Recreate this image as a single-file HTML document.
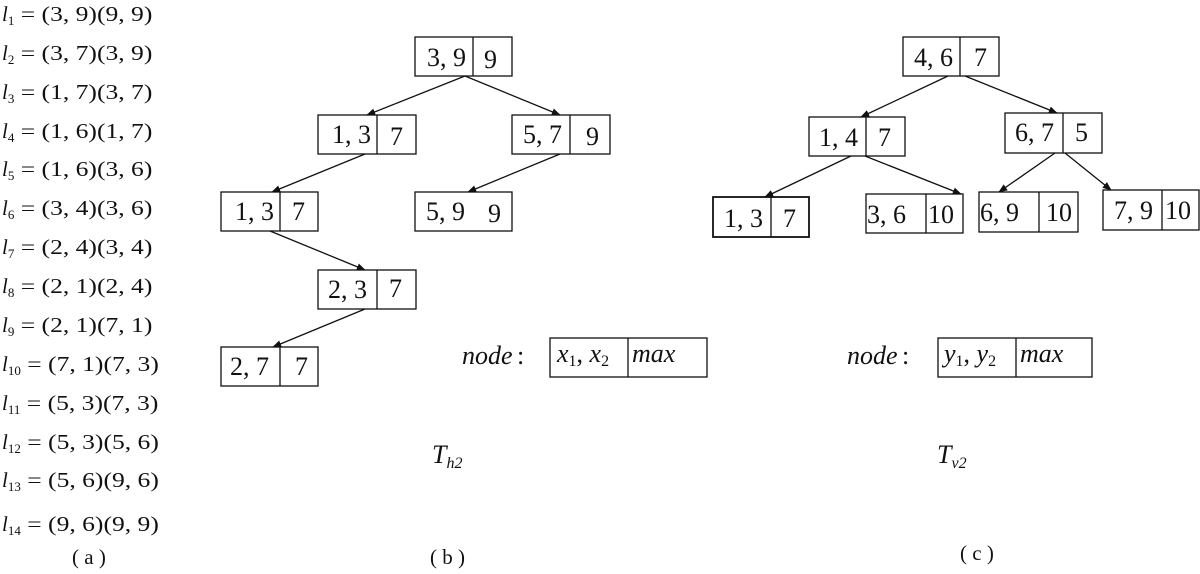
<!DOCTYPE html>
<html><head><meta charset="utf-8"><style>
html,body{margin:0;padding:0;background:#fff;}
svg{display:block;}
text{font-family:"Liberation Serif",serif;fill:#111;}
.l{font-size:21px;}
.b{font-size:26px;}
</style></head><body>
<svg width="1200" height="574" viewBox="0 0 1200 574" xmlns="http://www.w3.org/2000/svg">
<defs><marker id="a" viewBox="0 0 10 10" refX="9" refY="5" markerWidth="7" markerHeight="7" orient="auto"><path d="M0,1L10,5L0,9z" fill="#111"/></marker></defs>
<g class="l">
<text x="2" y="21"><tspan font-style="italic">l</tspan><tspan font-size="13" dy="4">1</tspan><tspan dy="-4" textLength="138" lengthAdjust="spacingAndGlyphs"> = (3, 9)(9, 9)</tspan></text>
<text x="2" y="60"><tspan font-style="italic">l</tspan><tspan font-size="13" dy="4">2</tspan><tspan dy="-4" textLength="138" lengthAdjust="spacingAndGlyphs"> = (3, 7)(3, 9)</tspan></text>
<text x="2" y="99"><tspan font-style="italic">l</tspan><tspan font-size="13" dy="4">3</tspan><tspan dy="-4" textLength="138" lengthAdjust="spacingAndGlyphs"> = (1, 7)(3, 7)</tspan></text>
<text x="2" y="138"><tspan font-style="italic">l</tspan><tspan font-size="13" dy="4">4</tspan><tspan dy="-4" textLength="138" lengthAdjust="spacingAndGlyphs"> = (1, 6)(1, 7)</tspan></text>
<text x="2" y="176"><tspan font-style="italic">l</tspan><tspan font-size="13" dy="4">5</tspan><tspan dy="-4" textLength="138" lengthAdjust="spacingAndGlyphs"> = (1, 6)(3, 6)</tspan></text>
<text x="2" y="215"><tspan font-style="italic">l</tspan><tspan font-size="13" dy="4">6</tspan><tspan dy="-4" textLength="138" lengthAdjust="spacingAndGlyphs"> = (3, 4)(3, 6)</tspan></text>
<text x="2" y="254"><tspan font-style="italic">l</tspan><tspan font-size="13" dy="4">7</tspan><tspan dy="-4" textLength="138" lengthAdjust="spacingAndGlyphs"> = (2, 4)(3, 4)</tspan></text>
<text x="2" y="293"><tspan font-style="italic">l</tspan><tspan font-size="13" dy="4">8</tspan><tspan dy="-4" textLength="138" lengthAdjust="spacingAndGlyphs"> = (2, 1)(2, 4)</tspan></text>
<text x="2" y="332"><tspan font-style="italic">l</tspan><tspan font-size="13" dy="4">9</tspan><tspan dy="-4" textLength="138" lengthAdjust="spacingAndGlyphs"> = (2, 1)(7, 1)</tspan></text>
<text x="2" y="371"><tspan font-style="italic">l</tspan><tspan font-size="13" dy="4">10</tspan><tspan dy="-4" textLength="138" lengthAdjust="spacingAndGlyphs"> = (7, 1)(7, 3)</tspan></text>
<text x="2" y="410"><tspan font-style="italic">l</tspan><tspan font-size="13" dy="4">11</tspan><tspan dy="-4" textLength="138" lengthAdjust="spacingAndGlyphs"> = (5, 3)(7, 3)</tspan></text>
<text x="2" y="449"><tspan font-style="italic">l</tspan><tspan font-size="13" dy="4">12</tspan><tspan dy="-4" textLength="138" lengthAdjust="spacingAndGlyphs"> = (5, 3)(5, 6)</tspan></text>
<text x="2" y="487"><tspan font-style="italic">l</tspan><tspan font-size="13" dy="4">13</tspan><tspan dy="-4" textLength="138" lengthAdjust="spacingAndGlyphs"> = (5, 6)(9, 6)</tspan></text>
<text x="2" y="531"><tspan font-style="italic">l</tspan><tspan font-size="13" dy="4">14</tspan><tspan dy="-4" textLength="138" lengthAdjust="spacingAndGlyphs"> = (9, 6)(9, 9)</tspan></text>
<text x="72" y="564">( a )</text>
</g>
<g fill="none" stroke="#111" stroke-width="1.3">
<rect x="415" y="37" width="97" height="39"/><line x1="473" y1="37" x2="473" y2="76"/>
<rect x="318" y="115" width="98" height="39"/><line x1="377" y1="115" x2="377" y2="154"/>
<rect x="512" y="115" width="98" height="39"/><line x1="570" y1="115" x2="570" y2="154"/>
<rect x="221" y="192" width="97" height="39"/><line x1="280" y1="192" x2="280" y2="231"/>
<rect x="415" y="192" width="97" height="39"/>
<rect x="318" y="270" width="98" height="39"/><line x1="377" y1="270" x2="377" y2="309"/>
<rect x="221" y="347" width="97" height="39"/><line x1="280" y1="347" x2="280" y2="386"/>
<rect x="550" y="338" width="157" height="39"/><line x1="628" y1="338" x2="628" y2="377"/>
<rect x="903" y="37" width="96" height="39"/><line x1="960" y1="37" x2="960" y2="76"/>
<rect x="809" y="117" width="96" height="39"/><line x1="866" y1="117" x2="866" y2="156"/>
<rect x="1005" y="113" width="97" height="40"/><line x1="1063" y1="113" x2="1063" y2="153"/>
<rect x="713" y="197" width="96" height="40" stroke-width="1.8"/><line x1="771" y1="197" x2="771" y2="237"/>
<rect x="866" y="194" width="97" height="39"/><line x1="926" y1="194" x2="926" y2="233"/>
<rect x="979" y="192" width="99" height="40"/><line x1="1039" y1="192" x2="1039" y2="232"/>
<rect x="1103" y="190" width="96" height="40"/><line x1="1162" y1="190" x2="1162" y2="230"/>
<rect x="938" y="338" width="154" height="39"/><line x1="1016" y1="338" x2="1016" y2="377"/>
</g>
<g stroke="#111" stroke-width="1.3" marker-end="url(#a)">
<line x1="465" y1="76" x2="367" y2="115"/>
<line x1="465" y1="76" x2="560" y2="115"/>
<line x1="365" y1="154" x2="272" y2="192"/>
<line x1="560" y1="154" x2="468" y2="192"/>
<line x1="270" y1="231" x2="365" y2="270"/>
<line x1="365" y1="309" x2="273" y2="347"/>
<line x1="948" y1="76" x2="861" y2="117"/>
<line x1="965" y1="76" x2="1057" y2="113"/>
<line x1="851" y1="156" x2="765" y2="197"/>
<line x1="865" y1="156" x2="961" y2="194"/>
<line x1="1055" y1="153" x2="999" y2="192"/>
<line x1="1065" y1="153" x2="1111" y2="190"/>
</g>
<g class="b">
<text x="427" y="66">3, 9</text><text x="484" y="68">9</text>
<text x="332" y="143">1, 3</text><text x="390" y="145">7</text>
<text x="523" y="143">5, 7</text><text x="586" y="145">9</text>
<text x="235" y="220">1, 3</text><text x="292" y="220">7</text>
<text x="426" y="220">5, 9</text><text x="488" y="222">9</text>
<text x="328" y="298">2, 3</text><text x="389" y="297">7</text>
<text x="230" y="375">2, 7</text><text x="295" y="375">7</text>
<text x="914" y="66">4, 6</text><text x="974" y="66">7</text>
<text x="819" y="146">1, 4</text><text x="878" y="146">7</text>
<text x="1015" y="141">6, 7</text><text x="1075" y="141">5</text>
<text x="724" y="227">1, 3</text><text x="783" y="227">7</text>
<text x="867" y="223">3, 6</text><text x="928" y="223">10</text>
<text x="980" y="221">6, 9</text><text x="1046" y="221">10</text>
<text x="1114" y="219">7, 9</text><text x="1165" y="219">10</text>
<text x="462" y="364" font-style="italic">node</text><text x="517" y="364"> :</text>
<text x="557" y="362" font-style="italic">x<tspan font-size="16" dy="4" font-style="normal">1</tspan><tspan dy="-4" font-style="normal">, </tspan>x<tspan font-size="16" dy="4" font-style="normal">2</tspan></text>
<text x="632" y="362" font-style="italic">max</text>
<text x="847" y="364" font-style="italic">node</text><text x="902" y="364"> :</text>
<text x="944" y="362" font-style="italic">y<tspan font-size="16" dy="4" font-style="normal">1</tspan><tspan dy="-4" font-style="normal">, </tspan>y<tspan font-size="16" dy="4" font-style="normal">2</tspan></text>
<text x="1020" y="362" font-style="italic">max</text>
<text x="432" y="463" font-style="italic">T<tspan font-size="16" dy="5">h2</tspan></text>
<text x="937" y="463" font-style="italic">T<tspan font-size="16" dy="5">v2</tspan></text>
</g>
<text x="430" y="564" font-size="21">( b )</text>
<text x="960" y="560" font-size="21">( c )</text>
</svg>
</body></html>
